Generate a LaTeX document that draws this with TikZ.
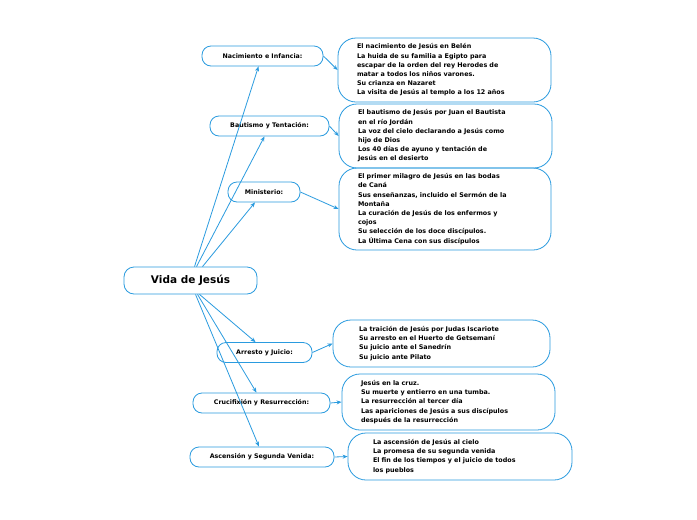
\documentclass[tikz,border=0pt]{standalone}
\usepackage{fontspec}
\setmainfont{DejaVu Sans}
\usetikzlibrary{arrows.meta}
\definecolor{bl}{HTML}{2A9BDF}
\begin{document}
\begin{tikzpicture}[x=1pt,y=-1pt,
 topic/.style={draw=bl,line width=0.8pt,rounded corners=9pt,minimum height=20pt,inner sep=0pt,font=\bfseries\fontsize{6.3}{8}\selectfont},
 det/.style={draw=bl,line width=0.8pt,rounded corners=18pt,inner xsep=19pt,inner ysep=0pt,align=left,font=\bfseries\fontsize{6.4}{9.2}\selectfont},
 con/.style={draw=bl,line width=0.8pt,-{Stealth[length=5pt,width=4pt]}}]
\useasboundingbox[fill=white] (0,0) rectangle (697,520);
\node[draw=bl,line width=0.8pt,rounded corners=10pt,minimum width=133pt,minimum height=27pt,font=\bfseries\fontsize{10.5}{12}\selectfont] (root) at (190.5,280.5) {Vida de Jesús};
\node[topic,minimum width=121pt] (t1) at (262.5,56) {Nacimiento e Infancia:};
\node[topic,minimum width=119pt] (t2) at (269.5,126) {Bautismo y Tentación:};
\node[topic,minimum width=72pt] (t3) at (264,192) {Ministerio:};
\node[topic,minimum width=95pt] (t4) at (264.5,352.5) {Arresto y Juicio:};
\node[topic,minimum width=137pt] (t5) at (261.5,403) {Crucifixión y Resurrección:};
\node[topic,minimum width=144pt] (t6) at (262,457) {Ascensión y Segunda Venida:};
\node[det,minimum width=213pt,minimum height=64pt,text width=175pt] (d1) at (444.5,70) {El nacimiento de Jesús en Belén\\La huida de su familia a Egipto para\\escapar de la orden del rey Herodes de\\matar a todos los niños varones.\\Su crianza en Nazaret\\La visita de Jesús al templo a los 12 años};
\node[det,minimum width=213pt,minimum height=64pt,text width=175pt] (d2) at (445.5,136) {El bautismo de Jesús por Juan el Bautista\\en el río Jordán\\La voz del cielo declarando a Jesús como\\hijo de Dios\\Los 40 días de ayuno y tentación de\\Jesús en el desierto};
\node[det,minimum width=212pt,minimum height=82pt,text width=174pt] (d3) at (445,209) {El primer milagro de Jesús en las bodas\\de Caná\\Sus enseñanzas, incluido el Sermón de la\\Montaña\\La curación de Jesús de los enfermos y\\cojos\\Su selección de los doce discípulos.\\La Última Cena con sus discípulos};
\node[det,minimum width=217pt,minimum height=47pt,inner xsep=26pt,text width=165pt] (d4) at (441.5,343.5) {La traición de Jesús por Judas Iscariote\\Su arresto en el Huerto de Getsemaní\\Su juicio ante el Sanedrín\\Su juicio ante Pilato};
\node[det,minimum width=213pt,minimum height=56pt,text width=175pt] (d5) at (448.5,402) {Jesús en la cruz.\\Su muerte y entierro en una tumba.\\La resurrección al tercer día\\Las apariciones de Jesús a sus discípulos\\después de la resurrección};
\node[det,minimum width=224pt,minimum height=47pt,inner xsep=25pt,text width=174pt] (d6) at (460,456.5) {La ascensión de Jesús al cielo\\La promesa de su segunda venida\\El fin de los tiempos y el juicio de todos\\los pueblos};
\draw[con] ([xshift=4pt]root.north) -- ([xshift=-4pt]t1.south);
\draw[con] ([xshift=6pt]root.north) -- ([xshift=-5pt]t2.south);
\draw[con] ([xshift=12pt]root.north) -- ([xshift=-9pt]t3.south);
\draw[con] ([xshift=9pt]root.south) -- ([xshift=-9pt]t4.north);
\draw[con] ([xshift=7pt]root.south) -- ([xshift=-5pt]t5.north);
\draw[con] ([xshift=5pt]root.south) -- ([xshift=-3pt]t6.north);
\draw[con] (t1.east) -- (d1.west);
\draw[con] (t2.east) -- (d2.west);
\draw[con] (t3.east) -- (d3.west);
\draw[con] (t4.east) -- (d4.west);
\draw[con] (t5.east) -- (d5.west);
\draw[con] (t6.east) -- (d6.west);
\end{tikzpicture}
\end{document}
